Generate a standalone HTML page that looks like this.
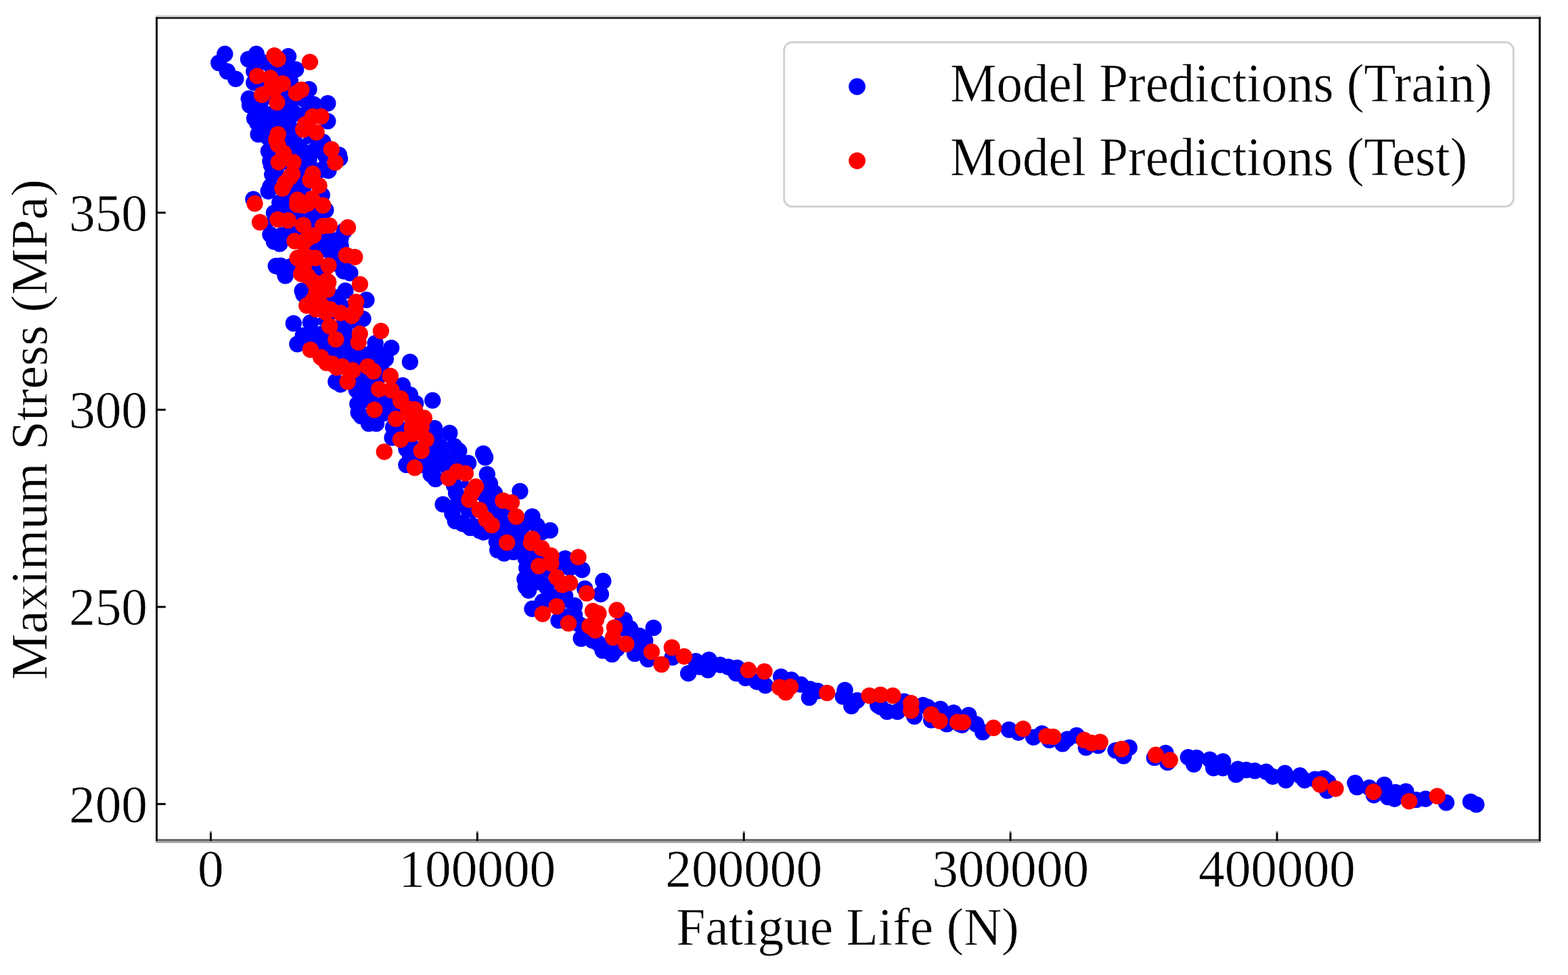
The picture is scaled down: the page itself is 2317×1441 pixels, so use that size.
<!DOCTYPE html>
<html lang="en">
<head>
<meta charset="utf-8">
<title>Fatigue Life vs Maximum Stress</title>
<style>
html,body{margin:0;padding:0;background:#fff;}
body{width:2317px;height:1441px;overflow:hidden;}
svg{display:block;}
text{font-family:"Liberation Serif","Times New Roman",serif;fill:#000;stroke:#fff;stroke-width:0.6px;paint-order:fill stroke;}
.tick{font-size:77.3px;}
.lab{font-size:77.3px;}
.leg{font-size:77.0px;}
</style>
</head>
<body>
<svg width="2317" height="1441" viewBox="0 0 2317 1441">
<rect x="0" y="0" width="2317" height="1441" fill="#fff"/>
<g id="train" fill="#0000ff"><circle cx="332.3" cy="79.8" r="12.2"/><circle cx="323.3" cy="93.0" r="12.2"/><circle cx="335.8" cy="105.5" r="12.2"/><circle cx="348.3" cy="116.6" r="12.2"/><circle cx="378.8" cy="79.8" r="12.2"/><circle cx="367.0" cy="87.5" r="12.2"/><circle cx="426.0" cy="83.3" r="12.2"/><circle cx="437.1" cy="102.7" r="12.2"/><circle cx="456.5" cy="131.9" r="12.2"/><circle cx="484.3" cy="152.7" r="12.2"/><circle cx="484.3" cy="179.1" r="12.2"/><circle cx="367.7" cy="145.8" r="12.2"/><circle cx="375.3" cy="105.5" r="12.2"/><circle cx="375.3" cy="122.2" r="12.2"/><circle cx="369.1" cy="155.5" r="12.2"/><circle cx="376.0" cy="174.9" r="12.2"/><circle cx="381.6" cy="198.5" r="12.2"/><circle cx="396.9" cy="223.5" r="12.2"/><circle cx="401.0" cy="244.3" r="12.2"/><circle cx="500.9" cy="229.0" r="12.2"/><circle cx="387.1" cy="91.6" r="12.2"/><circle cx="408.0" cy="102.7" r="12.2"/><circle cx="426.0" cy="105.5" r="12.2"/><circle cx="428.8" cy="119.4" r="12.2"/><circle cx="449.6" cy="147.1" r="12.2"/><circle cx="428.8" cy="158.2" r="12.2"/><circle cx="387.1" cy="163.8" r="12.2"/><circle cx="401.0" cy="174.9" r="12.2"/><circle cx="421.8" cy="174.9" r="12.2"/><circle cx="435.7" cy="168.0" r="12.2"/><circle cx="394.1" cy="188.8" r="12.2"/><circle cx="428.8" cy="188.8" r="12.2"/><circle cx="463.5" cy="154.1" r="12.2"/><circle cx="442.7" cy="216.5" r="12.2"/><circle cx="463.5" cy="223.5" r="12.2"/><circle cx="456.5" cy="237.3" r="12.2"/><circle cx="442.7" cy="244.3" r="12.2"/><circle cx="477.3" cy="209.6" r="12.2"/><circle cx="387.1" cy="147.1" r="12.2"/><circle cx="401.0" cy="133.3" r="12.2"/><circle cx="421.8" cy="140.2" r="12.2"/><circle cx="414.9" cy="161.0" r="12.2"/><circle cx="380.2" cy="181.8" r="12.2"/><circle cx="414.9" cy="181.8" r="12.2"/><circle cx="428.8" cy="202.7" r="12.2"/><circle cx="434.3" cy="216.5" r="12.2"/><circle cx="449.6" cy="230.4" r="12.2"/><circle cx="470.4" cy="209.6" r="12.2"/><circle cx="395.5" cy="202.7" r="12.2"/><circle cx="399.4" cy="238.3" r="12.2"/><circle cx="402.2" cy="257.8" r="12.2"/><circle cx="399.4" cy="275.8" r="12.2"/><circle cx="396.6" cy="282.7" r="12.2"/><circle cx="374.4" cy="294.5" r="12.2"/><circle cx="404.9" cy="314.7" r="12.2"/><circle cx="420.2" cy="299.4" r="12.2"/><circle cx="461.8" cy="320.2" r="12.2"/><circle cx="475.7" cy="288.3" r="12.2"/><circle cx="481.3" cy="310.5" r="12.2"/><circle cx="502.1" cy="234.2" r="12.2"/><circle cx="485.4" cy="252.2" r="12.2"/><circle cx="399.4" cy="346.6" r="12.2"/><circle cx="404.9" cy="357.0" r="12.2"/><circle cx="413.3" cy="360.4" r="12.2"/><circle cx="416.0" cy="348.0" r="12.2"/><circle cx="489.6" cy="354.9" r="12.2"/><circle cx="503.5" cy="352.1" r="12.2"/><circle cx="503.5" cy="363.2" r="12.2"/><circle cx="489.6" cy="372.9" r="12.2"/><circle cx="475.7" cy="361.8" r="12.2"/><circle cx="407.7" cy="393.1" r="12.2"/><circle cx="416.0" cy="396.5" r="12.2"/><circle cx="421.6" cy="407.6" r="12.2"/><circle cx="414.7" cy="392.6" r="12.2"/><circle cx="438.2" cy="318.8" r="12.2"/><circle cx="461.8" cy="327.1" r="12.2"/><circle cx="427.1" cy="342.4" r="12.2"/><circle cx="407.7" cy="250.8" r="12.2"/><circle cx="509.0" cy="341.0" r="12.2"/><circle cx="479.9" cy="352.1" r="12.2"/><circle cx="497.9" cy="389.6" r="12.2"/><circle cx="429.9" cy="393.8" r="12.2"/><circle cx="507.6" cy="400.7" r="12.2"/><circle cx="517.3" cy="403.5" r="12.2"/><circle cx="446.6" cy="429.8" r="12.2"/><circle cx="510.4" cy="429.8" r="12.2"/><circle cx="468.8" cy="398.6" r="12.2"/><circle cx="439.6" cy="277.2" r="12.2"/><circle cx="454.9" cy="243.9" r="12.2"/><circle cx="475.7" cy="250.8" r="12.2"/><circle cx="413.3" cy="299.4" r="12.2"/><circle cx="427.1" cy="307.7" r="12.2"/><circle cx="468.8" cy="313.3" r="12.2"/><circle cx="461.8" cy="363.2" r="12.2"/><circle cx="496.5" cy="382.7" r="12.2"/><circle cx="482.7" cy="368.8" r="12.2"/><circle cx="427.1" cy="396.5" r="12.2"/><circle cx="448.4" cy="435.0" r="12.2"/><circle cx="433.8" cy="478.0" r="12.2"/><circle cx="439.4" cy="508.5" r="12.2"/><circle cx="458.8" cy="476.6" r="12.2"/><circle cx="458.8" cy="493.3" r="12.2"/><circle cx="467.1" cy="507.1" r="12.2"/><circle cx="508.8" cy="486.3" r="12.2"/><circle cx="508.8" cy="521.0" r="12.2"/><circle cx="494.9" cy="521.0" r="12.2"/><circle cx="536.5" cy="523.8" r="12.2"/><circle cx="541.4" cy="443.3" r="12.2"/><circle cx="536.5" cy="471.1" r="12.2"/><circle cx="500.4" cy="439.1" r="12.2"/><circle cx="578.2" cy="514.1" r="12.2"/><circle cx="569.8" cy="530.7" r="12.2"/><circle cx="554.6" cy="507.1" r="12.2"/><circle cx="550.4" cy="521.0" r="12.2"/><circle cx="605.9" cy="534.9" r="12.2"/><circle cx="639.2" cy="591.8" r="12.2"/><circle cx="496.3" cy="564.0" r="12.2"/><circle cx="503.2" cy="568.2" r="12.2"/><circle cx="526.8" cy="576.5" r="12.2"/><circle cx="529.6" cy="597.3" r="12.2"/><circle cx="529.6" cy="609.8" r="12.2"/><circle cx="594.8" cy="569.6" r="12.2"/><circle cx="605.9" cy="583.5" r="12.2"/><circle cx="614.2" cy="596.0" r="12.2"/><circle cx="571.2" cy="594.6" r="12.2"/><circle cx="543.5" cy="562.7" r="12.2"/><circle cx="564.3" cy="548.8" r="12.2"/><circle cx="475.5" cy="493.3" r="12.2"/><circle cx="447.7" cy="496.0" r="12.2"/><circle cx="481.0" cy="518.2" r="12.2"/><circle cx="522.7" cy="528.0" r="12.2"/><circle cx="543.5" cy="590.4" r="12.2"/><circle cx="564.3" cy="534.9" r="12.2"/><circle cx="508.8" cy="504.4" r="12.2"/><circle cx="508.8" cy="472.4" r="12.2"/><circle cx="528.3" cy="596.9" r="12.2"/><circle cx="533.8" cy="615.0" r="12.2"/><circle cx="544.9" cy="626.1" r="12.2"/><circle cx="556.0" cy="626.1" r="12.2"/><circle cx="567.1" cy="610.8" r="12.2"/><circle cx="567.1" cy="596.9" r="12.2"/><circle cx="547.7" cy="592.8" r="12.2"/><circle cx="579.6" cy="646.9" r="12.2"/><circle cx="581.0" cy="631.6" r="12.2"/><circle cx="600.4" cy="663.5" r="12.2"/><circle cx="606.0" cy="673.3" r="12.2"/><circle cx="600.4" cy="687.1" r="12.2"/><circle cx="642.1" cy="633.0" r="12.2"/><circle cx="664.3" cy="640.0" r="12.2"/><circle cx="678.2" cy="666.3" r="12.2"/><circle cx="714.2" cy="670.5" r="12.2"/><circle cx="717.0" cy="676.0" r="12.2"/><circle cx="719.8" cy="701.0" r="12.2"/><circle cx="724.0" cy="714.9" r="12.2"/><circle cx="730.9" cy="728.8" r="12.2"/><circle cx="768.4" cy="726.0" r="12.2"/><circle cx="650.4" cy="659.4" r="12.2"/><circle cx="657.3" cy="680.2" r="12.2"/><circle cx="643.5" cy="687.1" r="12.2"/><circle cx="692.0" cy="684.4" r="12.2"/><circle cx="636.5" cy="701.0" r="12.2"/><circle cx="643.5" cy="708.0" r="12.2"/><circle cx="674.0" cy="728.8" r="12.2"/><circle cx="719.8" cy="742.7" r="12.2"/><circle cx="733.7" cy="756.5" r="12.2"/><circle cx="747.5" cy="784.3" r="12.2"/><circle cx="786.4" cy="763.5" r="12.2"/><circle cx="654.6" cy="745.4" r="12.2"/><circle cx="668.4" cy="759.3" r="12.2"/><circle cx="682.3" cy="773.2" r="12.2"/><circle cx="694.8" cy="780.1" r="12.2"/><circle cx="708.7" cy="784.3" r="12.2"/><circle cx="699.0" cy="777.3" r="12.2"/><circle cx="671.2" cy="659.4" r="12.2"/><circle cx="671.2" cy="680.2" r="12.2"/><circle cx="622.7" cy="687.1" r="12.2"/><circle cx="671.2" cy="717.7" r="12.2"/><circle cx="712.9" cy="728.8" r="12.2"/><circle cx="740.6" cy="770.4" r="12.2"/><circle cx="768.4" cy="784.3" r="12.2"/><circle cx="672.7" cy="770.0" r="12.2"/><circle cx="683.8" cy="774.2" r="12.2"/><circle cx="694.9" cy="779.7" r="12.2"/><circle cx="714.4" cy="786.7" r="12.2"/><circle cx="733.8" cy="800.5" r="12.2"/><circle cx="735.2" cy="813.0" r="12.2"/><circle cx="744.9" cy="817.9" r="12.2"/><circle cx="758.8" cy="815.8" r="12.2"/><circle cx="776.8" cy="825.5" r="12.2"/><circle cx="778.2" cy="839.4" r="12.2"/><circle cx="775.4" cy="856.0" r="12.2"/><circle cx="776.8" cy="867.1" r="12.2"/><circle cx="781.0" cy="872.7" r="12.2"/><circle cx="793.5" cy="860.2" r="12.2"/><circle cx="807.3" cy="867.1" r="12.2"/><circle cx="812.9" cy="783.9" r="12.2"/><circle cx="793.5" cy="776.9" r="12.2"/><circle cx="772.7" cy="776.9" r="12.2"/><circle cx="751.8" cy="781.1" r="12.2"/><circle cx="765.7" cy="797.8" r="12.2"/><circle cx="772.7" cy="814.4" r="12.2"/><circle cx="835.1" cy="825.5" r="12.2"/><circle cx="860.1" cy="842.2" r="12.2"/><circle cx="842.0" cy="839.4" r="12.2"/><circle cx="891.3" cy="858.8" r="12.2"/><circle cx="887.8" cy="878.2" r="12.2"/><circle cx="864.2" cy="869.9" r="12.2"/><circle cx="786.5" cy="899.8" r="12.2"/><circle cx="801.8" cy="889.3" r="12.2"/><circle cx="814.3" cy="881.0" r="12.2"/><circle cx="825.4" cy="917.1" r="12.2"/><circle cx="849.0" cy="894.9" r="12.2"/><circle cx="849.0" cy="908.8" r="12.2"/><circle cx="855.9" cy="922.7" r="12.2"/><circle cx="858.7" cy="943.5" r="12.2"/><circle cx="883.7" cy="950.4" r="12.2"/><circle cx="890.6" cy="961.5" r="12.2"/><circle cx="904.5" cy="967.1" r="12.2"/><circle cx="919.8" cy="918.5" r="12.2"/><circle cx="932.2" cy="936.5" r="12.2"/><circle cx="793.5" cy="847.7" r="12.2"/><circle cx="835.1" cy="881.0" r="12.2"/><circle cx="758.8" cy="786.7" r="12.2"/><circle cx="731.0" cy="781.1" r="12.2"/><circle cx="800.4" cy="786.7" r="12.2"/><circle cx="965.7" cy="927.9" r="12.2"/><circle cx="858.9" cy="943.8" r="12.2"/><circle cx="922.7" cy="916.1" r="12.2"/><circle cx="931.0" cy="928.6" r="12.2"/><circle cx="944.9" cy="939.7" r="12.2"/><circle cx="953.2" cy="946.6" r="12.2"/><circle cx="889.4" cy="954.9" r="12.2"/><circle cx="897.7" cy="961.9" r="12.2"/><circle cx="911.6" cy="959.1" r="12.2"/><circle cx="938.0" cy="966.0" r="12.2"/><circle cx="957.4" cy="974.4" r="12.2"/><circle cx="993.5" cy="971.6" r="12.2"/><circle cx="1017.1" cy="995.2" r="12.2"/><circle cx="1028.2" cy="977.1" r="12.2"/><circle cx="1047.6" cy="975.1" r="12.2"/><circle cx="1046.2" cy="990.3" r="12.2"/><circle cx="1033.7" cy="985.5" r="12.2"/><circle cx="1064.2" cy="982.7" r="12.2"/><circle cx="1089.2" cy="986.9" r="12.2"/><circle cx="1087.8" cy="995.2" r="12.2"/><circle cx="1101.7" cy="1002.1" r="12.2"/><circle cx="1118.4" cy="1007.7" r="12.2"/><circle cx="1130.9" cy="1013.2" r="12.2"/><circle cx="875.5" cy="946.6" r="12.2"/><circle cx="944.9" cy="953.5" r="12.2"/><circle cx="1154.1" cy="1000.2" r="12.2"/><circle cx="1169.4" cy="1004.7" r="12.2"/><circle cx="1183.3" cy="1011.6" r="12.2"/><circle cx="1197.1" cy="1018.5" r="12.2"/><circle cx="1208.2" cy="1021.3" r="12.2"/><circle cx="1195.8" cy="1031.0" r="12.2"/><circle cx="1248.5" cy="1019.9" r="12.2"/><circle cx="1245.7" cy="1029.6" r="12.2"/><circle cx="1258.2" cy="1043.5" r="12.2"/><circle cx="1266.5" cy="1035.2" r="12.2"/><circle cx="1301.2" cy="1044.9" r="12.2"/><circle cx="1310.9" cy="1051.8" r="12.2"/><circle cx="1326.2" cy="1051.8" r="12.2"/><circle cx="1297.1" cy="1042.1" r="12.2"/><circle cx="1335.9" cy="1036.6" r="12.2"/><circle cx="1351.2" cy="1058.8" r="12.2"/><circle cx="1363.7" cy="1042.1" r="12.2"/><circle cx="1370.6" cy="1044.9" r="12.2"/><circle cx="1388.6" cy="1048.4" r="12.2"/><circle cx="1409.5" cy="1054.6" r="12.2"/><circle cx="1376.2" cy="1064.3" r="12.2"/><circle cx="1398.4" cy="1069.9" r="12.2"/><circle cx="1417.8" cy="1069.9" r="12.2"/><circle cx="1389.7" cy="1048.0" r="12.2"/><circle cx="1409.1" cy="1053.5" r="12.2"/><circle cx="1431.3" cy="1057.0" r="12.2"/><circle cx="1442.4" cy="1070.2" r="12.2"/><circle cx="1452.2" cy="1082.0" r="12.2"/><circle cx="1399.4" cy="1070.2" r="12.2"/><circle cx="1421.6" cy="1071.6" r="12.2"/><circle cx="1491.0" cy="1078.5" r="12.2"/><circle cx="1504.9" cy="1082.7" r="12.2"/><circle cx="1527.1" cy="1089.6" r="12.2"/><circle cx="1539.6" cy="1084.1" r="12.2"/><circle cx="1550.7" cy="1093.8" r="12.2"/><circle cx="1570.1" cy="1099.3" r="12.2"/><circle cx="1577.1" cy="1092.4" r="12.2"/><circle cx="1590.9" cy="1086.9" r="12.2"/><circle cx="1604.8" cy="1104.9" r="12.2"/><circle cx="1622.9" cy="1102.1" r="12.2"/><circle cx="1648.5" cy="1109.1" r="12.2"/><circle cx="1660.3" cy="1117.4" r="12.2"/><circle cx="1668.6" cy="1104.9" r="12.2"/><circle cx="1705.8" cy="1119.9" r="12.2"/><circle cx="1722.4" cy="1113.0" r="12.2"/><circle cx="1725.2" cy="1126.9" r="12.2"/><circle cx="1755.8" cy="1119.2" r="12.2"/><circle cx="1764.1" cy="1129.6" r="12.2"/><circle cx="1768.2" cy="1119.9" r="12.2"/><circle cx="1787.7" cy="1122.7" r="12.2"/><circle cx="1793.2" cy="1135.2" r="12.2"/><circle cx="1807.1" cy="1125.5" r="12.2"/><circle cx="1807.1" cy="1135.2" r="12.2"/><circle cx="1826.5" cy="1144.9" r="12.2"/><circle cx="1829.3" cy="1136.6" r="12.2"/><circle cx="1841.8" cy="1138.0" r="12.2"/><circle cx="1854.3" cy="1139.3" r="12.2"/><circle cx="1870.9" cy="1140.7" r="12.2"/><circle cx="1880.6" cy="1147.7" r="12.2"/><circle cx="1898.7" cy="1142.8" r="12.2"/><circle cx="1900.1" cy="1153.2" r="12.2"/><circle cx="1920.9" cy="1146.3" r="12.2"/><circle cx="1927.8" cy="1153.2" r="12.2"/><circle cx="1955.6" cy="1150.4" r="12.2"/><circle cx="1962.5" cy="1156.0" r="12.2"/><circle cx="1943.1" cy="1151.8" r="12.2"/><circle cx="1961.1" cy="1168.5" r="12.2"/><circle cx="2062.1" cy="1171.0" r="12.2"/><circle cx="2002.4" cy="1157.1" r="12.2"/><circle cx="2005.2" cy="1163.4" r="12.2"/><circle cx="2023.3" cy="1164.1" r="12.2"/><circle cx="2045.5" cy="1159.9" r="12.2"/><circle cx="2030.2" cy="1175.2" r="12.2"/><circle cx="2051.0" cy="1178.0" r="12.2"/><circle cx="2060.7" cy="1180.7" r="12.2"/><circle cx="2077.4" cy="1169.6" r="12.2"/><circle cx="2092.7" cy="1182.1" r="12.2"/><circle cx="2106.5" cy="1180.7" r="12.2"/><circle cx="2137.1" cy="1186.3" r="12.2"/><circle cx="2173.1" cy="1184.9" r="12.2"/><circle cx="2181.5" cy="1189.1" r="12.2"/><circle cx="676.0" cy="745.1" r="12.2"/><circle cx="1076.3" cy="985.8" r="12.2"/><circle cx="690.2" cy="756.8" r="9.3"/><circle cx="477.8" cy="233.2" r="8.1"/><circle cx="638.8" cy="671.2" r="7.5"/><circle cx="454.8" cy="206.2" r="6.9"/><circle cx="687.2" cy="715.8" r="6.5"/><circle cx="791.8" cy="822.2" r="5.8"/><circle cx="808.8" cy="846.8" r="6.2"/><circle cx="528.8" cy="560.8" r="6.0"/><circle cx="450.2" cy="162.8" r="6.2"/><circle cx="473.8" cy="474.8" r="6.0"/><circle cx="834.8" cy="904.8" r="5.7"/><circle cx="454.2" cy="280.2" r="5.7"/><circle cx="511.2" cy="449.8" r="6.2"/><circle cx="582.8" cy="604.2" r="5.8"/><circle cx="749.2" cy="756.2" r="6.2"/><circle cx="650.2" cy="644.8" r="5.2"/><circle cx="594.8" cy="635.2" r="5.1"/><circle cx="655.2" cy="694.8" r="5.1"/><circle cx="446.2" cy="258.2" r="5.5"/><circle cx="398.2" cy="332.2" r="5.5"/><circle cx="612.8" cy="655.2" r="5.5"/><circle cx="524.2" cy="480.8" r="5.5"/><circle cx="557.8" cy="561.2" r="4.8"/><circle cx="827.8" cy="838.2" r="5.5"/><circle cx="540.8" cy="576.2" r="5.0"/><circle cx="486.2" cy="442.2" r="5.5"/><circle cx="564.2" cy="517.2" r="5.1"/><circle cx="918.8" cy="936.2" r="4.5"/><circle cx="429.2" cy="286.2" r="4.8"/><circle cx="394.8" cy="102.8" r="4.4"/><circle cx="400.2" cy="161.2" r="4.4"/><circle cx="388.8" cy="123.8" r="4.5"/><circle cx="441.2" cy="344.2" r="4.4"/><circle cx="482.8" cy="504.8" r="4.5"/><circle cx="422.8" cy="247.2" r="4.1"/><circle cx="515.8" cy="389.8" r="4.1"/><circle cx="491.2" cy="469.8" r="4.0"/><circle cx="520.2" cy="514.8" r="4.1"/><circle cx="518.2" cy="495.2" r="4.1"/><circle cx="660.8" cy="667.2" r="4.1"/><circle cx="530.8" cy="538.2" r="4.1"/><circle cx="698.8" cy="763.2" r="4.6"/><circle cx="595.8" cy="627.8" r="4.5"/><circle cx="636.8" cy="661.8" r="5.0"/><circle cx="534.2" cy="552.2" r="4.8"/><circle cx="564.2" cy="562.2" r="4.5"/><circle cx="643.2" cy="646.8" r="5.0"/><circle cx="631.8" cy="676.8" r="4.6"/><circle cx="805.8" cy="853.8" r="4.5"/><circle cx="835.8" cy="894.2" r="4.4"/><circle cx="787.2" cy="816.2" r="4.8"/><circle cx="800.2" cy="823.8" r="4.5"/><circle cx="661.8" cy="693.2" r="4.5"/><circle cx="442.2" cy="203.2" r="4.1"/><circle cx="546.8" cy="577.2" r="4.4"/><circle cx="443.2" cy="264.2" r="4.4"/><circle cx="397.2" cy="325.8" r="4.4"/><circle cx="589.8" cy="606.2" r="4.5"/><circle cx="450.2" cy="285.8" r="4.4"/><circle cx="476.8" cy="223.8" r="4.5"/><circle cx="448.8" cy="170.2" r="4.1"/><circle cx="646.8" cy="671.8" r="4.0"/></g>
<g id="test" fill="#ff0000"><circle cx="457.9" cy="91.6" r="12.2"/><circle cx="380.2" cy="112.4" r="12.2"/><circle cx="399.6" cy="115.2" r="12.2"/><circle cx="417.7" cy="123.5" r="12.2"/><circle cx="437.8" cy="137.4" r="12.2"/><circle cx="445.4" cy="132.6" r="12.2"/><circle cx="405.2" cy="131.9" r="12.2"/><circle cx="387.1" cy="140.2" r="12.2"/><circle cx="409.3" cy="151.3" r="12.2"/><circle cx="462.1" cy="172.1" r="12.2"/><circle cx="474.6" cy="172.1" r="12.2"/><circle cx="448.2" cy="191.5" r="12.2"/><circle cx="467.6" cy="195.7" r="12.2"/><circle cx="410.7" cy="198.5" r="12.2"/><circle cx="410.7" cy="213.8" r="12.2"/><circle cx="419.1" cy="226.2" r="12.2"/><circle cx="411.8" cy="239.7" r="12.2"/><circle cx="433.4" cy="239.7" r="12.2"/><circle cx="489.8" cy="220.7" r="12.2"/><circle cx="495.4" cy="240.1" r="12.2"/><circle cx="462.1" cy="256.8" r="12.2"/><circle cx="428.5" cy="261.9" r="12.2"/><circle cx="417.4" cy="278.6" r="12.2"/><circle cx="471.5" cy="274.4" r="12.2"/><circle cx="458.4" cy="266.1" r="12.2"/><circle cx="439.6" cy="295.2" r="12.2"/><circle cx="461.1" cy="293.8" r="12.2"/><circle cx="477.1" cy="303.5" r="12.2"/><circle cx="448.0" cy="303.5" r="12.2"/><circle cx="376.5" cy="300.8" r="12.2"/><circle cx="384.1" cy="328.5" r="12.2"/><circle cx="410.5" cy="324.4" r="12.2"/><circle cx="425.8" cy="325.8" r="12.2"/><circle cx="448.0" cy="332.7" r="12.2"/><circle cx="477.1" cy="334.1" r="12.2"/><circle cx="486.8" cy="333.4" r="12.2"/><circle cx="513.9" cy="336.2" r="12.2"/><circle cx="435.5" cy="356.3" r="12.2"/><circle cx="454.9" cy="352.1" r="12.2"/><circle cx="463.2" cy="348.0" r="12.2"/><circle cx="448.0" cy="359.1" r="12.2"/><circle cx="439.6" cy="381.3" r="12.2"/><circle cx="454.9" cy="379.9" r="12.2"/><circle cx="466.0" cy="381.3" r="12.2"/><circle cx="511.8" cy="377.1" r="12.2"/><circle cx="524.3" cy="379.9" r="12.2"/><circle cx="485.4" cy="392.4" r="12.2"/><circle cx="445.2" cy="404.9" r="12.2"/><circle cx="464.6" cy="417.3" r="12.2"/><circle cx="482.7" cy="414.6" r="12.2"/><circle cx="531.9" cy="420.1" r="12.2"/><circle cx="464.4" cy="418.3" r="12.2"/><circle cx="485.2" cy="416.9" r="12.2"/><circle cx="467.1" cy="433.6" r="12.2"/><circle cx="483.8" cy="428.0" r="12.2"/><circle cx="461.6" cy="444.7" r="12.2"/><circle cx="453.3" cy="451.6" r="12.2"/><circle cx="474.1" cy="450.2" r="12.2"/><circle cx="488.0" cy="457.2" r="12.2"/><circle cx="503.2" cy="462.7" r="12.2"/><circle cx="519.9" cy="466.9" r="12.2"/><circle cx="526.1" cy="446.1" r="12.2"/><circle cx="525.4" cy="458.6" r="12.2"/><circle cx="487.3" cy="482.2" r="12.2"/><circle cx="496.3" cy="501.6" r="12.2"/><circle cx="531.7" cy="493.3" r="12.2"/><circle cx="529.6" cy="505.8" r="12.2"/><circle cx="562.9" cy="489.1" r="12.2"/><circle cx="467.1" cy="457.2" r="12.2"/><circle cx="481.0" cy="461.3" r="12.2"/><circle cx="458.8" cy="516.9" r="12.2"/><circle cx="474.1" cy="528.0" r="12.2"/><circle cx="490.7" cy="537.7" r="12.2"/><circle cx="506.0" cy="541.8" r="12.2"/><circle cx="521.3" cy="547.4" r="12.2"/><circle cx="543.5" cy="541.8" r="12.2"/><circle cx="551.8" cy="548.8" r="12.2"/><circle cx="482.4" cy="536.3" r="12.2"/><circle cx="497.7" cy="543.2" r="12.2"/><circle cx="513.6" cy="564.0" r="12.2"/><circle cx="576.8" cy="555.7" r="12.2"/><circle cx="560.1" cy="575.1" r="12.2"/><circle cx="578.2" cy="576.5" r="12.2"/><circle cx="592.0" cy="589.0" r="12.2"/><circle cx="603.1" cy="604.3" r="12.2"/><circle cx="612.9" cy="609.8" r="12.2"/><circle cx="553.2" cy="605.7" r="12.2"/><circle cx="592.1" cy="592.8" r="12.2"/><circle cx="612.9" cy="605.3" r="12.2"/><circle cx="626.8" cy="617.8" r="12.2"/><circle cx="585.2" cy="619.1" r="12.2"/><circle cx="608.8" cy="631.6" r="12.2"/><circle cx="622.7" cy="631.6" r="12.2"/><circle cx="592.1" cy="649.7" r="12.2"/><circle cx="629.6" cy="649.7" r="12.2"/><circle cx="622.7" cy="666.3" r="12.2"/><circle cx="608.8" cy="617.8" r="12.2"/><circle cx="567.8" cy="667.7" r="12.2"/><circle cx="612.9" cy="691.3" r="12.2"/><circle cx="608.8" cy="641.3" r="12.2"/><circle cx="697.6" cy="727.4" r="12.2"/><circle cx="662.9" cy="706.6" r="12.2"/><circle cx="675.4" cy="696.9" r="12.2"/><circle cx="687.9" cy="699.6" r="12.2"/><circle cx="703.1" cy="719.1" r="12.2"/><circle cx="693.4" cy="738.5" r="12.2"/><circle cx="708.7" cy="753.8" r="12.2"/><circle cx="718.4" cy="767.6" r="12.2"/><circle cx="726.7" cy="776.0" r="12.2"/><circle cx="743.4" cy="739.9" r="12.2"/><circle cx="755.9" cy="742.7" r="12.2"/><circle cx="762.8" cy="763.5" r="12.2"/><circle cx="749.1" cy="801.9" r="12.2"/><circle cx="786.5" cy="796.4" r="12.2"/><circle cx="800.4" cy="810.2" r="12.2"/><circle cx="814.3" cy="821.3" r="12.2"/><circle cx="796.2" cy="836.6" r="12.2"/><circle cx="814.3" cy="832.4" r="12.2"/><circle cx="854.5" cy="823.4" r="12.2"/><circle cx="822.6" cy="853.3" r="12.2"/><circle cx="842.0" cy="861.6" r="12.2"/><circle cx="830.9" cy="864.4" r="12.2"/><circle cx="867.0" cy="876.9" r="12.2"/><circle cx="822.6" cy="896.3" r="12.2"/><circle cx="801.8" cy="907.4" r="12.2"/><circle cx="840.0" cy="921.3" r="12.2"/><circle cx="876.0" cy="903.2" r="12.2"/><circle cx="884.4" cy="906.7" r="12.2"/><circle cx="911.4" cy="901.8" r="12.2"/><circle cx="880.9" cy="915.7" r="12.2"/><circle cx="871.2" cy="925.4" r="12.2"/><circle cx="879.5" cy="931.7" r="12.2"/><circle cx="908.0" cy="927.5" r="12.2"/><circle cx="905.9" cy="942.1" r="12.2"/><circle cx="925.3" cy="951.8" r="12.2"/><circle cx="962.9" cy="963.3" r="12.2"/><circle cx="977.5" cy="982.0" r="12.2"/><circle cx="992.8" cy="957.0" r="12.2"/><circle cx="1010.8" cy="970.2" r="12.2"/><circle cx="1105.9" cy="990.3" r="12.2"/><circle cx="1129.5" cy="992.4" r="12.2"/><circle cx="1152.0" cy="1015.8" r="12.2"/><circle cx="1168.0" cy="1015.1" r="12.2"/><circle cx="1161.1" cy="1023.4" r="12.2"/><circle cx="1222.1" cy="1024.1" r="12.2"/><circle cx="1284.6" cy="1028.2" r="12.2"/><circle cx="1301.2" cy="1026.9" r="12.2"/><circle cx="1319.3" cy="1028.2" r="12.2"/><circle cx="1346.3" cy="1039.3" r="12.2"/><circle cx="1346.3" cy="1050.4" r="12.2"/><circle cx="1376.2" cy="1056.0" r="12.2"/><circle cx="1388.6" cy="1065.7" r="12.2"/><circle cx="1415.0" cy="1067.1" r="12.2"/><circle cx="1423.0" cy="1067.4" r="12.2"/><circle cx="1468.1" cy="1075.8" r="12.2"/><circle cx="1511.8" cy="1077.1" r="12.2"/><circle cx="1546.5" cy="1088.2" r="12.2"/><circle cx="1556.2" cy="1088.9" r="12.2"/><circle cx="1602.0" cy="1093.8" r="12.2"/><circle cx="1613.1" cy="1098.0" r="12.2"/><circle cx="1625.6" cy="1096.6" r="12.2"/><circle cx="1657.5" cy="1107.0" r="12.2"/><circle cx="1707.9" cy="1115.8" r="12.2"/><circle cx="1728.7" cy="1123.4" r="12.2"/><circle cx="1950.7" cy="1159.5" r="12.2"/><circle cx="1973.6" cy="1165.7" r="12.2"/><circle cx="2029.5" cy="1170.3" r="12.2"/><circle cx="2082.2" cy="1184.2" r="12.2"/><circle cx="2123.9" cy="1176.6" r="12.2"/><circle cx="405.4" cy="82.1" r="12.2"/><circle cx="410.6" cy="87.3" r="12.2"/><circle cx="401.0" cy="129.8" r="12.2"/><circle cx="451.3" cy="183.6" r="12.2"/><circle cx="439.3" cy="302.5" r="12.2"/><circle cx="454.9" cy="300.8" r="12.2"/><circle cx="454.9" cy="408.4" r="12.2"/><circle cx="432.0" cy="256.9" r="12.2"/><circle cx="421.6" cy="269.9" r="12.2"/><circle cx="408.3" cy="206.4" r="12.2"/><circle cx="448.6" cy="394.2" r="12.2"/><circle cx="785.0" cy="802.4" r="12.2"/></g>
<g id="spines"><rect x="230.00" y="22.15" width="2046.70" height="2.95" fill="#d9d9d9"/><rect x="230.00" y="25.10" width="2046.70" height="2.95" fill="#2a2a2a"/><rect x="230.00" y="1243.00" width="2046.70" height="2.95" fill="#a6a6a6"/><rect x="230.00" y="1240.00" width="2046.70" height="3.00" fill="#6a6a6a"/><rect x="230.00" y="25.10" width="2.95" height="1217.90" fill="#000"/><rect x="2273.70" y="25.10" width="3.00" height="1217.90" fill="#000"/></g>
<g id="ticks" fill="#000"><rect x="309.92" y="1230.2" width="2.95" height="12.80"/><rect x="309.92" y="1228" width="2.95" height="2.4" fill="#999"/><rect x="703.82" y="1230.2" width="2.95" height="12.80"/><rect x="703.82" y="1228" width="2.95" height="2.4" fill="#999"/><rect x="1097.73" y="1230.2" width="2.95" height="12.80"/><rect x="1097.73" y="1228" width="2.95" height="2.4" fill="#999"/><rect x="1491.62" y="1230.2" width="2.95" height="12.80"/><rect x="1491.62" y="1228" width="2.95" height="2.4" fill="#999"/><rect x="1885.53" y="1230.2" width="2.95" height="12.80"/><rect x="1885.53" y="1228" width="2.95" height="2.4" fill="#999"/><rect x="232.45" y="1186.83" width="12.30" height="2.95"/><rect x="232.45" y="895.52" width="12.30" height="2.95"/><rect x="232.45" y="604.12" width="12.30" height="2.95"/><rect x="232.45" y="312.82" width="12.30" height="2.95"/></g>
<g class="tick" text-anchor="middle"><text x="311.4" y="1309.5">0</text><text x="705.3" y="1309.5">100000</text><text x="1099.2" y="1309.5">200000</text><text x="1493.1" y="1309.5">300000</text><text x="1887.0" y="1309.5">400000</text></g>
<g class="tick" text-anchor="end"><text transform="translate(218,1214.7) scale(1,1.02)">200</text><text transform="translate(218,923.4) scale(1,1.02)">250</text><text transform="translate(218,632.0) scale(1,1.02)">300</text><text transform="translate(218,340.7) scale(1,1.02)">350</text></g>
<text class="lab" text-anchor="middle" transform="translate(1252.5,1396.4) scale(1,1.02)">Fatigue Life (N)</text>
<text class="lab" style="font-size:77px" text-anchor="middle" transform="translate(68.9,635) rotate(-90)">Maximum Stress (MPa)</text>
<rect x="1158.6" y="62.5" width="1077.9" height="242.7" rx="12" ry="12" fill="#fff" fill-opacity="0.8" stroke="#d2d2d2" stroke-width="3"/>
<circle cx="1266.5" cy="128" r="12.4" fill="#0000ff"/>
<circle cx="1266.5" cy="237.6" r="12.4" fill="#ff0000"/>
<text class="leg" transform="translate(1404,149.8) scale(1,1.035)">Model Predictions (Train)</text>
<text class="leg" transform="translate(1404,259.2) scale(1,1.035)">Model Predictions (Test)</text>
</svg>
</body>
</html>
